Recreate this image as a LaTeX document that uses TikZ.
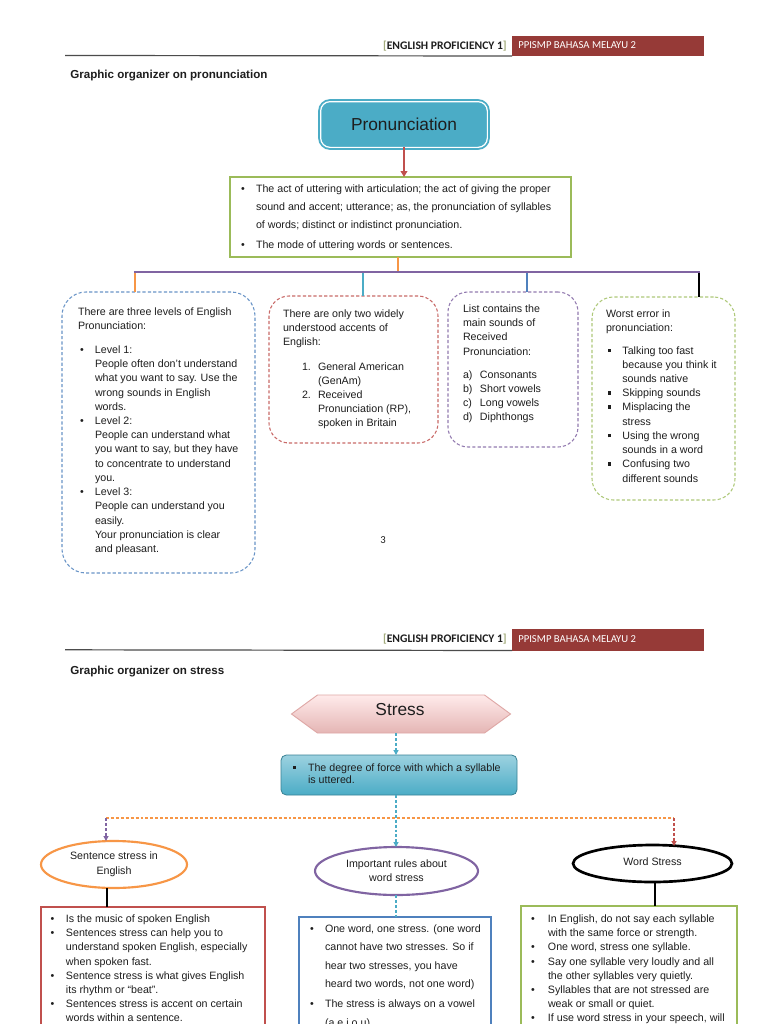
\documentclass[tikz,border=0pt]{standalone}
\usepackage{fontspec}
\setmainfont{Liberation Sans}
\newfontfamily\carl{Carlito}
\usetikzlibrary{arrows.meta,shapes.geometric,calc}
\definecolor{cTeal}{HTML}{4BACC6}
\definecolor{cRed}{HTML}{C0504D}
\definecolor{cGreen}{HTML}{9BBB59}
\definecolor{cOrange}{HTML}{F79646}
\definecolor{cPurple}{HTML}{8064A2}
\definecolor{cBlue}{HTML}{4F81BD}
\definecolor{hdrRed}{HTML}{963A37}
\definecolor{brk}{HTML}{A3AC7C}
\definecolor{ink}{HTML}{1E1E1E}
\newcommand\mkB[2]{\makebox[#1][l]{\textbullet}#2}
\newcommand\mkI[2]{\hspace*{#1}#2}
\newcommand\mkS[2]{\makebox[#1][l]{\raisebox{1.6pt}{\rule{2.5pt}{2.5pt}}}#2}
\newcommand\mkL[3]{\makebox[#1][l]{#2}#3}
\newcommand\stk[1]{\vtop{\let\\\cr\halign{##\hfil\cr#1\crcr}}}
\tikzset{
  txt/.style={inner sep=0pt, outer sep=0pt, anchor=base west, text=ink, font=\fontsize{8}{10.68}\selectfont},
  dbox/.style={draw=#1, dash pattern=on 2.4pt off 1.6pt, line width=0.8pt, inner sep=0pt, outer sep=0pt},
  sz/.style 2 args={minimum width=#1*0.75pt, minimum height=#2*0.75pt, inner sep=0pt, outer sep=0pt},
  dcon/.style={dash pattern=on 2.2pt off 1.5pt, line width=0.8pt},
  tip/.style={-{Triangle[width=3.6pt,length=3.6pt]}},
  hdr/.style={inner sep=0pt, anchor=base west, text=white, font=\carl\fontsize{8}{9}\selectfont},
  hdrl/.style={inner sep=0pt, anchor=base east, text=ink, font=\carl\bfseries\fontsize{8.7}{10}\selectfont},
  ttl/.style={inner sep=0pt, anchor=base west, text=ink, font=\bfseries\fontsize{8.7}{10}\selectfont},
}
\begin{document}
\begin{tikzpicture}[x=0.75pt,y=-0.75pt]
\useasboundingbox (0,0) rectangle (768,1024);
\clip (0,0) rectangle (768,1024);
\fill[white] (0,0) rectangle (768,1024);

% ---------------- header 1
\node[sz={192}{20.3}, fill=hdrRed, anchor=north west] (hb1) at (512,35.7) {};
\node[hdr] (hb1t) at (518,49) {PPISMP BAHASA MELAYU 2};
\node[hdrl] (ht1) at (507,49.5) {\textcolor{brk}{[}ENGLISH PROFICIENCY 1\textcolor{brk}{]}};
\draw[black!70, line width=0.9pt] (65,55.5) -- (hb1.south west);
\node[ttl] (t1) at (70,79) {Graphic organizer on pronunciation};

% ---------------- pronunciation
\node[sz={166.7}{45.7}, rounded corners=7pt, fill=cTeal, draw=cTeal, double=white,
      double distance=0.9pt, line width=1.4pt, font=\fontsize{13}{15}\selectfont, text=ink] (pron) at (404,124.5) {Pronunciation};
\node[sz={341}{80}, draw=cGreen, line width=2pt] (def) at (400.5,217) {};
\node[txt, font=\fontsize{8}{13.5}\selectfont] (deft) at (241,192.3)
  {\stk{\mkB{11.25pt}{The act of uttering with articulation; the act of giving the proper}\\
   \mkI{11.25pt}{sound and accent; utterance; as, the pronunciation of syllables}\\
   \mkI{11.25pt}{of words; distinct or indistinct pronunciation.}\\\noalign{\vskip1.3pt}
   \mkB{11.25pt}{The mode of uttering words or sentences.}}};
\draw[cRed, line width=1.5pt, -{Triangle[width=5pt,length=4.5pt]}] (pron.south) -- (pron.south |- def.north);

% four boxes
\node[dbox=cBlue!85, sz={193}{281}, rounded corners=18pt] (p1) at (158.5,432.5) {};
\node[dbox=cRed!85, sz={169}{147}, rounded corners=15pt] (p2) at (353.5,369.5) {};
\node[dbox=cPurple!85, sz={130}{155}, rounded corners=15pt] (p3) at (513,369.5) {};
\node[dbox=cGreen!80, sz={143}{203}, rounded corners=16pt] (p4) at (663.5,398.5) {};

% bar
\coordinate (jc) at (398,272);
\coordinate (j1) at (135,272);
\coordinate (j2) at (363,272);
\coordinate (j3) at (527,272);
\coordinate (j4) at (699,272);
\draw[cOrange, line width=2pt] (def.south -| jc) -- (jc);
\draw[cOrange, line width=2pt] (j1) -- (j1 |- p1.north);
\draw[cTeal, line width=2pt] (j2) -- (j2 |- p2.north);
\draw[cBlue, line width=2pt] (j3) -- (j3 |- p3.north);
\draw[black, line width=1.6pt] (j4) -- (j4 |- p4.north);
\draw[cPurple, line width=1.8pt] ([xshift=-0.8pt]j1) -- ([xshift=0.6pt]j4);

% box 1 text
\node[txt] (p1a) at (78,315.3) {\stk{There are three levels of English\\Pronunciation:}};
\node[txt] (p1b) at (80,353.3)
  {\stk{\mkB{11.25pt}{Level 1:}\\
   \mkI{11.25pt}{People often don’t understand}\\
   \mkI{11.25pt}{what you want to say. Use the}\\
   \mkI{11.25pt}{wrong sounds in English}\\
   \mkI{11.25pt}{words.}\\
   \mkB{11.25pt}{Level 2:}\\
   \mkI{11.25pt}{People can understand what}\\
   \mkI{11.25pt}{you want to say, but they have}\\
   \mkI{11.25pt}{to concentrate to understand}\\
   \mkI{11.25pt}{you.}\\
   \mkB{11.25pt}{Level 3:}\\
   \mkI{11.25pt}{People can understand you}\\
   \mkI{11.25pt}{easily.}\\
   \mkI{11.25pt}{Your pronunciation is clear}\\
   \mkI{11.25pt}{and pleasant.}}};
% box 2 text
\node[txt] (p2a) at (283,317.3) {\stk{There are only two widely\\understood accents of\\English:}};
\node[txt] (p2b) at (302,370)
  {\stk{\mkL{12pt}{1.}{General American}\\
   \mkI{12pt}{(GenAm)}\\
   \mkL{12pt}{2.}{Received}\\
   \mkI{12pt}{Pronunciation (RP),}\\
   \mkI{12pt}{spoken in Britain}}};
% box 3 text
\node[txt] (p3a) at (463,312.3) {\stk{List contains the\\main sounds of\\Received\\Pronunciation:}};
\node[txt] (p3b) at (463,378)
  {\stk{\mkL{12.75pt}{a)}{Consonants}\\
   \mkL{12.75pt}{b)}{Short vowels}\\
   \mkL{12.75pt}{c)}{Long vowels}\\
   \mkL{12.75pt}{d)}{Diphthongs}}};
% box 4 text
\node[txt] (p4a) at (606,317.3) {\stk{Worst error in\\pronunciation:}};
\node[txt] (p4b) at (608,354)
  {\stk{\mkS{10.8pt}{Talking too fast}\\
   \mkI{10.8pt}{because you think it}\\
   \mkI{10.8pt}{sounds native}\\
   \mkS{10.8pt}{Skipping sounds}\\
   \mkS{10.8pt}{Misplacing the}\\
   \mkI{10.8pt}{stress}\\
   \mkS{10.8pt}{Using the wrong}\\
   \mkI{10.8pt}{sounds in a word}\\
   \mkS{10.8pt}{Confusing two}\\
   \mkI{10.8pt}{different sounds}}};

\node[inner sep=0pt, font=\carl\fontsize{8}{9}\selectfont, text=ink] (pg) at (383,540) {3};

% ---------------- header 2
\node[sz={192}{21.5}, fill=hdrRed, anchor=north west] (hb2) at (512,629) {};
\node[hdr] (hb2t) at (518,642.3) {PPISMP BAHASA MELAYU 2};
\node[hdrl] (ht2) at (507,642.8) {\textcolor{brk}{[}ENGLISH PROFICIENCY 1\textcolor{brk}{]}};
\draw[black!70, line width=0.9pt] (65,649.8) -- (hb2.south west);
\node[ttl] (t2) at (70,674) {Graphic organizer on stress};

% ---------------- stress
\node[sz={219}{38}] (hex) at (401,714) {};
\path[top color=red!8!white, bottom color=cRed!42!white, draw=cRed!50!white, line width=0.7pt]
  (hex.west) -- ($(hex.north west)+(26,0)$) -- ($(hex.north east)+(-26,0)$) -- (hex.east)
  -- ($(hex.south east)+(-26,0)$) -- ($(hex.south west)+(26,0)$) -- cycle;
\node[inner sep=0pt, font=\fontsize{13}{15}\selectfont, text=ink] (hext) at (400,710) {Stress};

\node[sz={236}{40}, rounded corners=4pt, top color=cTeal!55!white, bottom color=cTeal,
      draw=cTeal!75!black, line width=0.6pt] (sdef) at (399,775) {};
\node[txt, font=\fontsize{8}{9.6}\selectfont] (sdeft) at (293,771)
  {\stk{\mkS{11.25pt}{The degree of force with which a syllable}\\
   \mkI{11.25pt}{is uttered.}}};

\node[ellipse, draw=cOrange, line width=1.6pt, sz={146}{47}, align=center, text=ink,
      font=\fontsize{8}{11.25}\selectfont] (e1) at (114,864.5) {Sentence stress in\\English};
\node[ellipse, draw=cPurple, line width=1.6pt, sz={163}{48}, align=center, text=ink,
      font=\fontsize{8}{10.5}\selectfont] (e2) at (396.5,871) {Important rules about\\word stress};
\node[ellipse, draw=black, line width=2pt, sz={159}{37}, text=ink,
      font=\fontsize{8}{10.5}\selectfont] (e3) at (652.5,863.5) {\raisebox{2.5pt}{Word Stress}};

\node[sz={224}{133}, draw=cRed, line width=1.5pt] (bb1) at (153,973.5) {};
\node[sz={192}{123}, draw=cBlue, line width=1.5pt] (bb2) at (395,978.5) {};
\node[sz={216}{134}, draw=cGreen, line width=2pt] (bb3) at (629,973) {};

\coordinate (vx) at (396,750);
\coordinate (hl) at (106,818);
\coordinate (hr) at (674,818);
\coordinate (l1x) at (107,900);
\coordinate (l3x) at (655,900);
\draw[cTeal, dcon, tip] (hex.south -| vx) -- (sdef.north -| vx);
\draw[cOrange, dcon] (hl) -- (hr);
\draw[cTeal, dcon, tip] (sdef.south -| vx) -- (e2.north -| vx);
\draw[cTeal, dcon] (e2.south -| vx) -- (bb2.north -| vx);
\draw[cPurple, dcon, tip] (hl) -- (hl |- e1.north);
\draw[cRed, dcon, tip] (hr) -- ($(hr |- e3.north)+(0,1)$);
\draw[black, line width=0.8pt] (l1x |- e1.south) -- (l1x |- bb1.north);
\draw[black, line width=0.8pt] (l3x |- e3.south) -- (l3x |- bb3.north);

\node[txt] (bb1t) at (50.5,922.3)
  {\stk{\mkB{11.6pt}{Is the music of spoken English}\\
   \mkB{11.6pt}{Sentences stress can help you to}\\
   \mkI{11.6pt}{understand spoken English, especially}\\
   \mkI{11.6pt}{when spoken fast.}\\
   \mkB{11.6pt}{Sentence stress is what gives English}\\
   \mkI{11.6pt}{its rhythm or “beat”.}\\
   \mkB{11.6pt}{Sentences stress is accent on certain}\\
   \mkI{11.6pt}{words within a sentence.}}};
\node[txt, font=\fontsize{8}{13.9}\selectfont] (bb2t) at (310,932)
  {\stk{\mkB{11.25pt}{One word, one stress. (one word}\\
   \mkI{11.25pt}{cannot have two stresses. So if}\\
   \mkI{11.25pt}{hear two stresses, you have}\\
   \mkI{11.25pt}{heard two words, not one word)}\\\noalign{\vskip1.3pt}
   \mkB{11.25pt}{The stress is always on a vowel}\\
   \mkI{11.25pt}{(a,e,i,o,u).}}};
\node[txt] (bb3t) at (531,922.3)
  {\stk{\mkB{12.75pt}{In English, do not say each syllable}\\
   \mkI{12.75pt}{with the same force or strength.}\\
   \mkB{12.75pt}{One word, stress one syllable.}\\
   \mkB{12.75pt}{Say one syllable very loudly and all}\\
   \mkI{12.75pt}{the other syllables very quietly.}\\
   \mkB{12.75pt}{Syllables that are not stressed are}\\
   \mkI{12.75pt}{weak or small or quiet.}\\
   \mkB{12.75pt}{If use word stress in your speech, will}}};
\end{tikzpicture}
\end{document}
